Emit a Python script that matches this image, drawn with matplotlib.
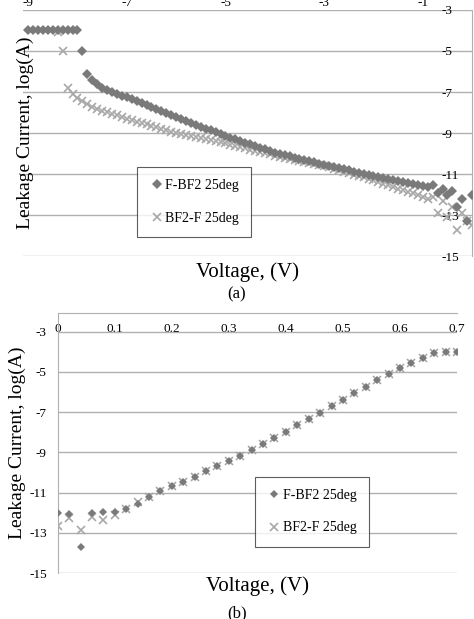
import numpy as np
import matplotlib
matplotlib.use("Agg")
import matplotlib.pyplot as plt

plt.rcParams['font.family'] = ['Liberation Serif', 'DejaVu Serif']
plt.rcParams['axes.unicode_minus'] = False

# panel (a): reverse bias sweep, 0.1 V steps
va_fbf2 = np.round(np.arange(-9.0, 0.01, 0.1), 2)
ia_fbf2 = [-4.0] * 11 + [
    -5.0, -6.1, -6.4, -6.6, -6.8, -6.9, -7.0, -7.1, -7.18, -7.25,
    -7.35, -7.45, -7.55, -7.65, -7.72, -7.82, -7.92, -8.0, -8.1, -8.2,
    -8.3, -8.4, -8.5, -8.6, -8.68, -8.78, -8.87, -8.96, -9.05, -9.15,
    -9.23, -9.31, -9.39, -9.47, -9.55, -9.63, -9.71, -9.79, -9.87, -9.95,
    -10.01, -10.07, -10.13, -10.19, -10.25, -10.31, -10.37, -10.43, -10.49, -10.55,
    -10.6, -10.66, -10.71, -10.77, -10.82, -10.88, -10.93, -10.99, -11.04, -11.1,
    -11.15, -11.2, -11.25, -11.3, -11.35, -11.4, -11.45, -11.5, -11.55, -11.6,
    -11.65, -11.55, -11.9, -11.7, -12.0, -11.8, -12.6, -12.2, -13.3, -12.0]

va_bf2f = np.round(np.arange(-8.4, 0.01, 0.1), 2)
ia_bf2f = [
    -4.1, -5.0, -6.8, -7.1, -7.3, -7.45, -7.6, -7.72, -7.82, -7.9,
    -7.98, -8.06, -8.14, -8.22, -8.3,
    -8.37, -8.44, -8.51, -8.58, -8.65, -8.72, -8.79, -8.86, -8.93, -9.0,
    -9.05, -9.1, -9.15, -9.2, -9.25, -9.3, -9.35, -9.4, -9.45, -9.5,
    -9.56, -9.62, -9.68, -9.74, -9.8, -9.86, -9.92, -9.98, -10.04, -10.1,
    -10.15, -10.2, -10.25, -10.3, -10.35, -10.4, -10.45, -10.5, -10.55, -10.6,
    -10.67, -10.74, -10.81, -10.88, -10.95, -11.02, -11.09, -11.16, -11.23, -11.3,
    -11.38, -11.46, -11.54, -11.62, -11.7, -11.78, -11.86, -11.94, -12.02, -12.1,
    -12.2, -12.1, -12.9, -12.3, -13.1, -12.6, -13.7, -12.9, -13.3, -13.5]

# panel (b): forward bias, 0.02 V steps
vb = np.round(np.arange(0, 0.701, 0.02), 2)
ib_fbf2 = [-12.0, -12.06, -13.7, -12.0, -11.97, -11.97, -11.8, -11.55, -11.2, -10.93,
           -10.68, -10.47, -10.22, -9.95, -9.7, -9.42, -9.16, -8.9, -8.6, -8.26,
           -7.98, -7.66, -7.32, -7.02, -6.68, -6.37, -6.04, -5.74, -5.39, -5.11,
           -4.81, -4.56, -4.31, -4.08, -4.01, -4.01]
ib_bf2f = [-12.68, -12.26, -12.84, -12.21, -12.34, -12.1] + ib_fbf2[6:]
ib_bf2f[7] = -11.45

dark = '#7a7a7a'
light = '#a8a8a8'
lbl1 = 'F-BF2 25deg'
lbl2 = 'BF2-F 25deg'

fig = plt.figure(figsize=(4.74, 6.19), dpi=100)

# ---- (a)
ax = fig.add_axes([0.049, 0.586, 0.947, 0.398])
ax.plot(va_fbf2, ia_fbf2, 'D', color=dark, ms=5, mew=0, label=lbl1, zorder=3)
ax.plot(va_bf2f, ia_bf2f, 'x', color=light, ms=6, mew=1.2, label=lbl2, zorder=2)
ax.set_xlim(-9.1, 0)
ax.set_ylim(-15, -3)
ax.set_xticks([-9, -7, -5, -3, -1])
ax.set_yticks(range(-15, -2, 2))
ax.grid(axis='y', color='#b0b0b0', lw=1)
ax.set_axisbelow(True)
for s in ['top', 'left', 'bottom']:
    ax.spines[s].set_visible(False)
ax.spines['right'].set_color('#b0b0b0')
ax.xaxis.tick_top()
ax.tick_params(axis='x', length=0, pad=1, labelsize=9.5)
ax.yaxis.tick_right()
ax.tick_params(axis='y', length=0, pad=-22, labelsize=9.5)
ax.set_xlabel('Voltage, (V)', fontsize=15, labelpad=4)
ax.set_ylabel('Leakage Current, log(A)', fontsize=14, labelpad=-8)
ax.yaxis.set_label_position('left')
ax.xaxis.set_label_position('bottom')
leg = ax.legend(loc='lower left', bbox_to_anchor=(0.254, 0.077), fontsize=10,
                fancybox=False, edgecolor='#333333', labelspacing=1.4,
                handletextpad=0.1, handlelength=1, borderpad=0.9, borderaxespad=0)
leg.get_frame().set_linewidth(0.8)
fig.text(0.5, 0.518, '(a)', ha='center', fontsize=12)

# ---- (b)
bx = fig.add_axes([0.122, 0.0743, 0.842, 0.4206])
bx.plot(vb, ib_fbf2, 'D', color=dark, ms=4.5, mew=0, label=lbl1, zorder=3)
bx.plot(vb, ib_bf2f, 'x', color=light, ms=6, mew=1.2, label=lbl2, zorder=2)
bx.set_xlim(0, 0.7)
bx.set_ylim(-15, -2.05)
bx.set_xticks(np.round(np.arange(0, 0.71, 0.1), 1))
bx.set_xticklabels(['0', '0.1', '0.2', '0.3', '0.4', '0.5', '0.6', '0.7'])
bx.set_yticks(range(-15, -2, 2))
bx.grid(axis='y', color='#b0b0b0', lw=1)
bx.set_axisbelow(True)
for s in ['right', 'bottom']:
    bx.spines[s].set_visible(False)
bx.spines['top'].set_color('#b0b0b0')
bx.spines['left'].set_color('#b0b0b0')
bx.xaxis.tick_top()
bx.tick_params(axis='x', length=0, pad=-16, labelsize=9.5)
bx.tick_params(axis='y', length=0, pad=8, labelsize=9.5)
bx.set_xlabel('Voltage, (V)', fontsize=15, labelpad=2)
bx.xaxis.set_label_position('bottom')
bx.set_ylabel('Leakage Current, log(A)', fontsize=14, labelpad=2)
leg = bx.legend(loc='lower left', bbox_to_anchor=(0.494, 0.1), fontsize=10,
                fancybox=False, edgecolor='#333333', labelspacing=1.4,
                handletextpad=0.1, handlelength=1, borderpad=0.9, borderaxespad=0)
leg.get_frame().set_linewidth(0.8)
fig.text(0.5, 0.003, '(b)', ha='center', fontsize=12)

fig.savefig('out.png', dpi=100)
